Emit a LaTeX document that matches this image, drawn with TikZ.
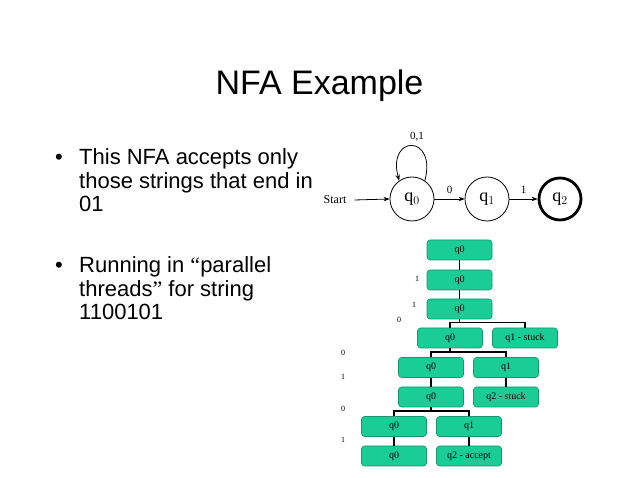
\documentclass[tikz,border=0pt]{standalone}
\usepackage{fontspec}
\setmainfont{Liberation Serif}
\newfontfamily\arial{Liberation Sans}
\newfontfamily\qserif{Liberation Serif}
\usetikzlibrary{arrows.meta}
\definecolor{boxfill}{RGB}{26,204,150}
\definecolor{boxline}{RGB}{20,150,110}
\begin{document}
\begin{tikzpicture}[x=1pt,y=-1pt,
 state/.style={circle,draw,line width=0.8pt,minimum size=44pt,inner sep=0pt,font=\fontsize{18}{18}\selectfont},
 tbox/.style={draw=boxline,line width=0.6pt,fill=boxfill,rounded corners=3pt,minimum width=65pt,minimum height=20pt,inner sep=0pt,font=\fontsize{10}{10}\selectfont},
 lab/.style={font=\fontsize{8}{8}\selectfont,inner sep=0pt},
 elab/.style={font=\fontsize{11}{11}\selectfont,inner sep=0pt},
 arr/.style={-{Stealth[length=6pt,width=4.5pt]},line width=0.8pt},
 tline/.style={line width=1.4pt},
 bul/.style={anchor=base west,inner sep=0pt,font=\arial\fontsize{22}{22}\selectfont}]
\useasboundingbox[fill=white] (0,0) rectangle (638,478);

% title
\node[anchor=base,inner sep=0pt,font=\arial\fontsize{34}{34}\selectfont] (title) at (319.5,95) {NFA Example};

% bullets
\node[bul] (d1) at (55,165) {•};
\node[bul] (l1) at (79,165) {This NFA accepts only};
\node[bul] (l2) at (79,188.5) {those strings that end in};
\node[bul] (l3) at (79,212) {01};
\node[bul] (d2) at (55,273) {•};
\node[bul] (l4) at (79,273) {Running in {\qserif“}parallel};
\node[bul] (l5) at (79,296.5) {threads{\qserif”} for string};
\node[bul] (l6) at (79,320) {1100101};

% NFA
\node[font=\fontsize{12}{12}\selectfont,inner sep=0pt] (start) at (335,200) {Start};
\node[state] (q0) at (412,199) {q$_0$};
\node[state] (q1) at (487,199) {q$_1$};
\node[state,line width=2.8pt,minimum size=42pt] (q2) at (560,199) {q$_2$};
\draw[arr] ([xshift=8pt]start.east) -- (q0.west);
\draw[arr] (q0) -- node[elab,above=5pt] (e0) {0} (q1);
\draw[arr] (q1) -- node[elab,above=5pt] (e1) {1} (q2);
\draw[arr] (q0.55) .. controls +(75:48pt) and +(105:48pt) .. (q0.125);
\node[elab] (loop) at (417,137) {0,1};

% tree
\node[tbox] (A) at (459.5,250) {q0};
\node[tbox] (B) at (459.5,280) {q0};
\node[tbox] (C) at (459.5,309) {q0};
\node[tbox] (D) at (450,338) {q0};
\node[tbox] (E) at (525,338) {q1 - stuck};
\node[tbox] (F) at (431,367.5) {q0};
\node[tbox] (G) at (506,367.5) {q1};
\node[tbox] (H) at (431,397) {q0};
\node[tbox] (I) at (506,397) {q2 - stuck};
\node[tbox] (J) at (394,426.5) {q0};
\node[tbox] (K) at (469,426.5) {q1};
\node[tbox] (L) at (394,456) {q0};
\node[tbox] (M) at (469,456) {q2 - accept};

\draw[tline] (A) -- (B);
\draw[tline] (B) -- (C);
\draw[tline] (C.south) |- ([yshift=5pt]D.north) -- (D.north);
\draw[tline] (C.south) |- ([yshift=5pt]E.north) -- (E.north);
\draw[tline] (D.south) |- ([yshift=5pt]F.north) -- (F.north);
\draw[tline] (D.south) |- ([yshift=5pt]G.north) -- (G.north);
\draw[tline] (F) -- (H);
\draw[tline] (G) -- (I);
\draw[tline] (H.south) |- ([yshift=5pt]J.north) -- (J.north);
\draw[tline] (H.south) |- ([yshift=5pt]K.north) -- (K.north);
\draw[tline] (J) -- (L);
\draw[tline] (K) -- (M);

\node[lab] (s1) at (417,279) {1};
\node[lab] (s2) at (414,305) {1};
\node[lab] (s3) at (399,320) {0};
\node[lab] (s4) at (343,353) {0};
\node[lab] (s5) at (343,377) {1};
\node[lab] (s6) at (343,409) {0};
\node[lab] (s7) at (343,440) {1};
\end{tikzpicture}
\end{document}
